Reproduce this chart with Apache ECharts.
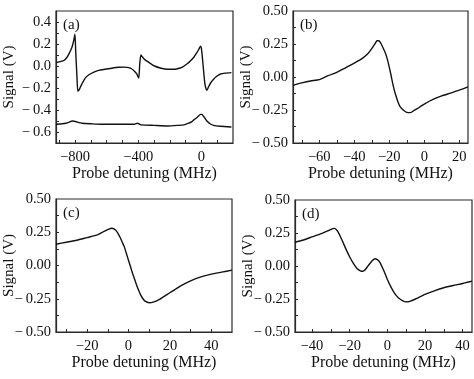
<!DOCTYPE html>
<html>
<head>
<meta charset="utf-8">
<script src="https://cdn.jsdelivr.net/npm/echarts@6/dist/echarts.min.js"></script>
<style>html,body{margin:0;padding:0;background:#fff}#c{width:474px;height:379px}</style>
</head>
<body>
<div id="c"></div>
<script>
// Panel (a): upper trace [detuning MHz, signal V]
var aUpper = [[-920,0.03],[-895,0.04],[-870,0.05],[-850,0.08],[-838,0.11],[-825,0.15],[-817,0.18],[-808,0.23],[-800,0.29],[-795,0.12],[-788,-0.08],[-782,-0.23],[-775,-0.22],[-765,-0.19],[-755,-0.16],[-735,-0.11],[-712,-0.08],[-680,-0.055],[-650,-0.04],[-610,-0.03],[-567,-0.02],[-525,-0.012],[-484,-0.01],[-460,-0.015],[-442,-0.025],[-425,-0.045],[-410,-0.07],[-400,-0.1],[-396,-0.11],[-390,0.02],[-383,0.1],[-375,0.085],[-360,0.06],[-330,0.03],[-297,0.0],[-255,-0.02],[-214,-0.03],[-180,-0.03],[-152,-0.025],[-120,-0.01],[-90,0.02],[-70,0.045],[-48,0.08],[-30,0.12],[-17,0.15],[-6,0.18],[0,0.16],[8,0.05],[15,-0.06],[22,-0.16],[30,-0.21],[35,-0.22],[45,-0.19],[60,-0.15],[77,-0.12],[95,-0.095],[118,-0.075],[150,-0.065],[190,-0.06]];
// Panel (a): lower trace
var aLower = [[-920,-0.53],[-880,-0.525],[-858,-0.52],[-835,-0.51],[-817,-0.5],[-796,-0.505],[-775,-0.515],[-755,-0.52],[-700,-0.525],[-630,-0.53],[-520,-0.53],[-440,-0.53],[-420,-0.528],[-405,-0.52],[-390,-0.53],[-380,-0.535],[-300,-0.54],[-214,-0.545],[-150,-0.54],[-110,-0.535],[-80,-0.52],[-60,-0.505],[-48,-0.49],[-30,-0.47],[-15,-0.45],[-4,-0.44],[4,-0.44],[15,-0.46],[25,-0.48],[35,-0.5],[55,-0.525],[77,-0.54],[120,-0.548],[190,-0.555]];
// Panel (b)
var bTrace = [[-75,-0.063],[-70,-0.045],[-65,-0.03],[-60,-0.02],[-55,0.01],[-50,0.035],[-45,0.07],[-40,0.105],[-35,0.145],[-32,0.18],[-30,0.215],[-28,0.255],[-27,0.275],[-26,0.275],[-25,0.26],[-23.5,0.22],[-22,0.175],[-21,0.13],[-20,0.075],[-19,0.015],[-18,-0.05],[-17,-0.105],[-16,-0.15],[-15,-0.19],[-14,-0.22],[-12,-0.25],[-10,-0.268],[-8,-0.27],[-6,-0.255],[-4,-0.24],[-2,-0.222],[0,-0.205],[5,-0.17],[10,-0.143],[15,-0.122],[20,-0.1],[25,-0.075]];
// Panel (c)
var cTrace = [[-35,0.16],[-30,0.175],[-25,0.19],[-20,0.21],[-15,0.23],[-12,0.255],[-10,0.27],[-8,0.28],[-7,0.275],[-6,0.262],[-5,0.24],[-4,0.21],[-3,0.175],[-2,0.14],[-1,0.09],[0,0.04],[1,-0.01],[2,-0.06],[3,-0.105],[4,-0.15],[5,-0.19],[6,-0.225],[7,-0.25],[8,-0.268],[10,-0.28],[12,-0.275],[15,-0.255],[20,-0.205],[25,-0.155],[30,-0.115],[35,-0.085],[40,-0.065],[45,-0.05],[50,-0.035]];
// Panel (d)
var dTrace = [[-49,0.18],[-45,0.195],[-40,0.22],[-35,0.245],[-31,0.27],[-29,0.283],[-28,0.285],[-27,0.275],[-26,0.255],[-25,0.225],[-24,0.195],[-22,0.13],[-20,0.07],[-18,0.02],[-16,-0.02],[-14,-0.038],[-13,-0.04],[-12,-0.033],[-10,0.005],[-8,0.04],[-6.5,0.055],[-5.5,0.05],[-4,0.03],[-2,-0.03],[0,-0.1],[2,-0.16],[4,-0.21],[6,-0.243],[8,-0.262],[10,-0.272],[12,-0.268],[15,-0.25],[20,-0.215],[25,-0.188],[30,-0.165],[35,-0.148],[40,-0.133],[45,-0.115]];

// Axis ranges, tick labels and tick marks
var aXLabels = [-800,-400,0];
var aXTicks = [-900,-800,-700,-600,-500,-400,-300,-200,-100,0,100];
var aYLabels = [-0.6,-0.4,-0.2,0,0.2,0.4];
var aYTicks = [-0.6,-0.5,-0.4,-0.3,-0.2,-0.1,0,0.1,0.2,0.3,0.4];
var bXLabels = [-60,-40,-20,0,20];
var bXTicks = [-70,-60,-50,-40,-30,-20,-10,0,10,20];
var cXLabels = [-20,0,20,40];
var cXTicks = [-30,-20,-10,0,10,20,30,40];
var dXLabels = [-40,-20,0,20,40];
var dXTicks = [-40,-30,-20,-10,0,10,20,30,40];
var yLabels2 = [-0.5,-0.25,0,0.25,0.5];
var yTicks2 = [-0.375,-0.25,-0.125,0,0.125,0.25,0.375];
var panelNames = ['(a)','(b)','(c)','(d)'];

var FONT = 'Liberation Serif';
var AX = '#2a2a2a';
function fmtInt(v){ return v < 0 ? '\u2212' + Math.abs(v) : String(v); }
function fmtDec(d){ return function(v){ var s = Math.abs(v).toFixed(d); return v < -1e-9 ? '\u2212\u2009' + s : s; }; }

var grids = [
  {left:56, top:11, width:177, height:132},
  {left:293, top:11, width:175, height:132},
  {left:56, top:199, width:176, height:133},
  {left:295, top:200, width:177, height:132}
];
grids.forEach(function(g){ g.show = true; g.borderColor = AX; g.borderWidth = 1.2; g.backgroundColor = 'transparent'; });

function xAx(i, min, max, labels, ticks){
  return {type:'value', gridIndex:i, min:min, max:max, name:'Probe detuning (MHz)', nameLocation:'middle', nameGap:23,
    nameMoveOverlap:false,
    nameTextStyle:{fontFamily:FONT, fontSize:16, color:'#111'},
    axisLine:{show:true, onZero:false, lineStyle:{color:AX, width:1.2}},
    axisTick:{show:true, inside:true, length:3, customValues:ticks, lineStyle:{color:AX}},
    axisLabel:{customValues:labels, formatter:fmtInt, fontFamily:FONT, fontSize:14.5, color:'#111', margin:7},
    splitLine:{show:false}};
}
function yAx(i, min, max, labels, ticks, dec){
  return {type:'value', gridIndex:i, min:min, max:max, name:'Signal (V)', nameLocation:'middle', nameGap:39,
    nameMoveOverlap:false,
    nameTextStyle:{fontFamily:FONT, fontSize:15, color:'#111'},
    axisLine:{show:true, onZero:false, lineStyle:{color:AX, width:1.2}},
    axisTick:{show:true, inside:true, length:3, customValues:ticks, lineStyle:{color:AX}},
    axisLabel:{customValues:labels, formatter:fmtDec(dec), fontFamily:FONT, fontSize:14.5, color:'#111', margin:5},
    splitLine:{show:false}};
}
function ser(i, data){
  return {type:'line', xAxisIndex:i, yAxisIndex:i, data:data, showSymbol:false, symbol:'none', smooth:0.2,
    lineStyle:{color:'#111', width:1.4}, animation:false};
}

var titles = panelNames.map(function(t, i){
  var g = grids[i];
  return {text:t, left:g.left + 7, top:g.top + 7, textStyle:{fontFamily:FONT, fontSize:15, fontWeight:'normal', color:'#111'}, padding:0};
});

var chart = echarts.init(document.getElementById('c'), null, {renderer:'canvas'});
chart.setOption({
  animation:false,
  backgroundColor:'#fff',
  title:titles,
  grid:grids,
  xAxis:[xAx(0,-920,200,aXLabels,aXTicks), xAx(1,-75,25,bXLabels,bXTicks), xAx(2,-35,50,cXLabels,cXTicks), xAx(3,-49,45,dXLabels,dXTicks)],
  yAxis:[yAx(0,-0.7,0.5,aYLabels,aYTicks,1), yAx(1,-0.5,0.5,yLabels2,yTicks2,2), yAx(2,-0.5,0.5,yLabels2,yTicks2,2), yAx(3,-0.5,0.5,yLabels2,yTicks2,2)],
  series:[ser(0,aUpper), ser(0,aLower), ser(1,bTrace), ser(2,cTrace), ser(3,dTrace)]
});
</script>
</body>
</html>
